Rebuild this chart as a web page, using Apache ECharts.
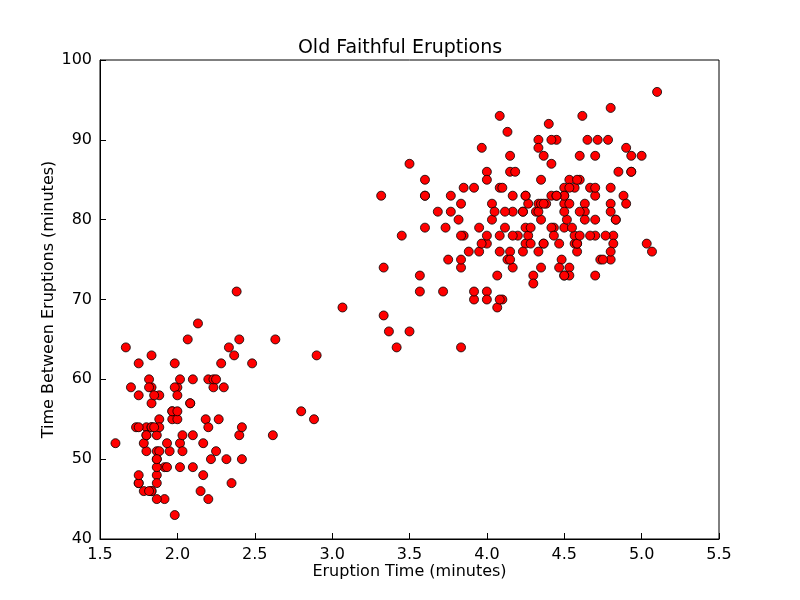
<!DOCTYPE html>
<html><head><meta charset="utf-8">
<script src="https://cdn.jsdelivr.net/npm/echarts@6/dist/echarts.min.js"></script>
<style>html,body{margin:0;padding:0;background:#fff}#c{width:800px;height:600px}</style>
</head><body><div id="c"></div>
<script>
const eruptions=[3.6,1.8,3.333,2.283,4.533,2.883,4.7,3.6,1.95,4.35,1.833,3.917,4.2,1.75,4.7,2.167,1.75,4.8,1.6,4.25,1.8,1.75,3.45,3.067,4.533,3.6,1.967,4.083,3.85,4.433,4.3,4.467,3.367,4.033,3.833,2.017,1.867,4.833,1.833,4.783,4.35,1.883,4.567,1.75,4.533,3.317,3.833,2.1,4.633,2,4.8,4.716,1.833,4.833,1.733,4.883,3.717,1.667,4.567,4.317,2.233,4.5,1.75,4.8,1.817,4.4,4.167,4.7,2.067,4.7,4.033,1.967,4.5,4,1.983,5.067,2.017,4.567,3.883,3.6,4.133,4.333,4.1,2.633,4.067,4.933,3.95,4.517,2.167,4,2.2,4.333,1.867,4.817,1.833,4.3,4.667,3.75,1.867,4.9,2.483,4.367,2.1,4.5,4.05,1.867,4.7,1.783,4.85,3.683,4.733,2.3,4.9,4.417,1.7,4.633,2.317,4.6,1.817,4.417,2.617,4.067,4.25,1.967,4.6,3.767,1.917,4.5,2.267,4.65,1.867,4.167,2.8,4.333,1.833,4.383,1.883,4.933,2.033,3.733,4.233,2.233,4.533,4.817,4.333,1.983,4.633,2.017,5.1,1.8,5.033,4,2.4,4.6,3.567,4,4.5,4.083,1.8,3.967,2.2,4.15,2,3.833,3.5,4.583,2.367,5,1.933,4.617,1.917,2.083,4.583,3.333,4.167,4.333,4.5,2.417,4,4.167,1.883,4.583,4.25,3.767,2.033,4.433,4.083,1.833,4.417,2.183,4.8,1.833,4.8,4.1,3.966,4.233,3.5,4.366,2.25,4.667,2.1,4.35,4.133,1.867,4.6,1.783,4.367,3.85,1.933,4.5,2.383,4.7,1.867,3.833,3.417,4.233,2.4,4.8,2,4.15,1.867,4.267,1.75,4.483,4,4.117,4.083,4.267,3.917,4.55,4.083,2.417,4.183,2.217,4.45,1.883,1.85,4.283,3.95,2.333,4.15,2.35,4.933,2.9,4.583,3.833,2.083,4.367,2.133,4.35,2.2,4.45,3.567,4.5,4.15,3.817,3.917,4.45,2,4.283,4.767,4.533,1.85,4.25,1.983,2.25,4.75,4.117,2.15,4.417,1.817,4.467];
const waiting=[79,54,74,62,85,55,88,85,51,85,54,84,78,47,83,52,62,84,52,79,51,47,78,69,74,83,55,76,78,79,73,77,66,80,74,52,48,80,59,90,80,58,84,58,73,83,64,53,82,59,75,90,54,80,54,83,71,64,77,81,59,84,48,82,60,92,78,78,65,73,82,56,79,71,62,76,60,78,76,83,75,82,70,65,73,88,76,80,48,86,60,90,50,78,63,72,84,75,51,82,62,88,49,83,81,47,84,52,86,81,75,59,89,79,59,81,50,85,59,87,53,69,77,56,88,81,45,82,55,90,45,83,56,89,46,82,51,86,53,79,81,60,82,77,76,59,80,49,96,53,77,77,65,81,71,70,81,93,53,89,45,86,58,78,66,76,63,88,52,93,49,57,77,68,81,81,73,50,85,74,55,77,83,83,51,78,84,46,83,55,81,57,76,84,77,81,87,77,51,78,60,82,91,53,78,46,77,84,49,83,71,80,49,75,64,76,53,94,55,76,50,82,54,75,78,79,78,78,70,79,70,54,86,50,90,54,54,77,79,64,75,47,86,63,85,82,57,82,67,74,54,83,73,73,88,80,71,83,56,79,78,84,58,83,43,60,75,81,46,90,46,74];
const titleText='Old Faithful Eruptions';
const xName='Eruption Time (minutes)', yName='Time Between Eruptions (minutes)';
const pts=eruptions.map((e,i)=>[e,waiting[i]]);
const ch=echarts.init(document.getElementById('c'));
const lbl={color:'#000',fontSize:16,fontFamily:'DejaVu Sans',margin:8};
function ax(extra){return Object.assign({axisLine:{show:true,lineStyle:{color:'#000',width:1}},axisTick:{show:true,inside:true,length:6,lineStyle:{color:'#000'}},
 axisLabel:Object.assign({},lbl),splitLine:{show:false},nameLocation:'middle',nameMoveOverlap:false,
 nameTextStyle:{color:'#000',fontSize:16,fontFamily:'DejaVu Sans'}},extra);}
ch.setOption({
 animation:false,
 title:{text:titleText,left:'center',top:34,textStyle:{fontSize:19,fontWeight:'normal',color:'#000',fontFamily:'DejaVu Sans'}},
 grid:{left:100,right:81,top:60,bottom:61,show:true,borderColor:'#000',borderWidth:1},
 xAxis:ax({type:'value',min:1.5,max:5.5,interval:0.5,name:xName,nameGap:25,axisLabel:Object.assign({},lbl,{formatter:v=>v.toFixed(1)})}),
 yAxis:ax({type:'value',min:40,max:100,interval:10,name:yName,nameGap:43}),
 series:[{type:'scatter',data:pts,symbolSize:9,itemStyle:{color:'#ff0000',borderColor:'#000',borderWidth:0.8,opacity:1}}]
});
</script></body></html>
